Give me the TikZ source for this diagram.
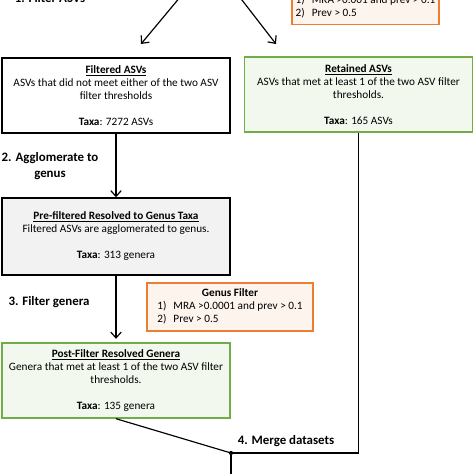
\documentclass[tikz,border=0pt]{standalone}
\usepackage{fontspec}
\setmainfont{Carlito}
\usepackage{xcolor}
\usetikzlibrary{arrows.meta}
\definecolor{boxgreen}{HTML}{70AD47}
\definecolor{fillgreen}{HTML}{F3F8EF}
\definecolor{boxorange}{HTML}{ED7D31}
\definecolor{fillorange}{HTML}{FDF4EE}
\definecolor{fillgrey}{HTML}{F2F2F2}

\begin{document}
\begin{tikzpicture}[x=0.03cm,y=-0.03cm,>={Straight Barb[length=5pt,width=9pt]},
	line width=1pt,
	taxabox/.style={draw, line width=1.2pt, minimum width=6.84cm, minimum height=2.25cm, align=center, inner sep=2pt, font=\fontsize{9.6}{11.1}\selectfont},
	greenbox/.style={taxabox, draw=boxgreen, fill=fillgreen},
	filterbox/.style={draw=boxorange, fill=fillorange, line width=1.2pt, inner sep=3pt, font=\fontsize{9.6}{11.1}\selectfont},
	steplabel/.style={align=center, font=\bfseries\fontsize{11}{14}\selectfont}]
		\useasboundingbox (0,0) rectangle (474,474);
		\clip (0,0) rectangle (474,474);
		%Steps
		\node [steplabel] (lblfilter) at (50,-2) {1. Filter ASVs};
		\node [steplabel] (lblagglom) at (50,166) {2. Agglomerate to\\genus};
		\node [steplabel] (lblgenera) at (49,302) {3. Filter genera};
		\node [steplabel] (lblmerge) at (286,441) {4. Merge datasets};
		%Filters
		\node [filterbox, anchor=south] (asvfilter) at (365.5,25) {\begin{tabular}{@{}l@{\hspace{6pt}}l@{}}
			1) & MRA >0.001 and prev > 0.1\\
			2) & Prev > 0.5
		\end{tabular}};
		\node [filterbox, minimum width=4.98cm, minimum height=1.44cm] (genusfilter) at (230,307) {\begin{tabular}{@{}l@{\hspace{6pt}}l@{}}
			\multicolumn{2}{c}{\textbf{Genus Filter}}\\
			1) & MRA >0.0001 and prev > 0.1\\
			2) & Prev > 0.5
		\end{tabular}};
		%Boxes
		\node [taxabox] (filtered) at (116,95.5) {\underline{\textbf{Filtered ASVs}}\\ASVs that did not meet either of the two ASV\\filter thresholds\\[11.1pt]\textbf{Taxa}: 7272 ASVs};
		\node [greenbox] (retained) at (358.5,94.5) {\underline{\textbf{Retained ASVs}}\\ASVs that met at least 1 of the two ASV filter\\thresholds.\\[11.1pt]\textbf{Taxa}: 165 ASVs};
		\node [taxabox, fill=fillgrey, minimum height=2.31cm] (prefilt) at (116,236.5) {\underline{\textbf{Pre-filtered Resolved to Genus Taxa}}\\Filtered ASVs are agglomerated to genus.\\[11.1pt]\textbf{Taxa}: 313 genera};
		\node [greenbox] (postfilt) at (116,380.5) {\underline{\textbf{Post-Filter Resolved Genera}}\\Genera that met at least 1 of the two ASV filter\\thresholds.\\[11.1pt]\textbf{Taxa}: 135 genera};
		%Arrows
		\coordinate (rawasv) at (211,-40);
		\coordinate (filtin) at (141,44);
		\coordinate (retin) at (276,44);
		\draw [->] (rawasv) -- (filtin);
		\draw [->] (rawasv) -- (retin);
		\draw [->] (filtered.south) -- (prefilt.north);
		\draw [->, shorten >=3pt] (prefilt.south) -- (postfilt.north);
		%Merge
		\coordinate (merge) at (231,453);
		\coordinate (merged) at (231,480);
		\draw (postfilt.south) -- (merge);
		\draw (retained.south) |- (merge);
		\draw (merge) -- (merged);
		\fill (merge) circle (1.8pt);
	\end{tikzpicture}
\end{document}
